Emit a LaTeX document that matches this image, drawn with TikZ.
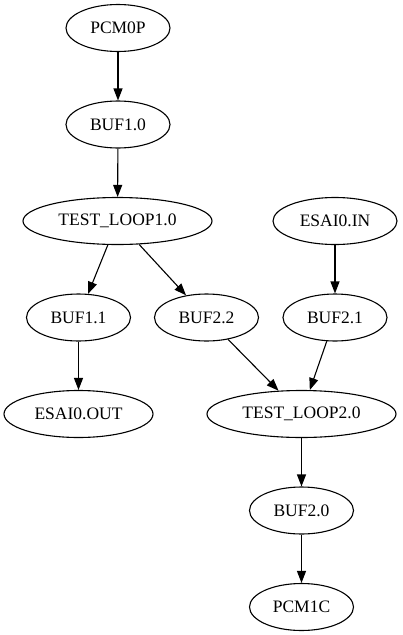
\documentclass[tikz,border=0pt]{standalone}
\usepackage{fontspec}
\setmainfont{Liberation Serif}
\usepackage{tikz}
\usetikzlibrary{arrows.meta}
\usetikzlibrary{shapes.geometric}
\tikzset {
  x={(1pt,0)}, y={(0,-1pt)},
  >={Triangle[length=12pt,width=9pt]},
  % graph vertex style
  main/.style = {draw, ellipse, line width=1.1pt, inner sep=0pt,
    minimum height=47pt, minimum width=104pt,
    font=\fontsize{17.5}{20}\selectfont},
  wide/.style = {minimum width=#1},
  edge/.style = {line width=1.1pt},
}
\begin{document}
\begin{tikzpicture}
        \useasboundingbox (0,0) rectangle (402,635);

        \node[main] (pcm0p) at (118, 28) {PCM0P};
        \node[main] (buf10) at (118, 124.5) {BUF1.0};
        \node[main, wide=189pt] (tl10) at (117.5, 221) {TEST\_LOOP1.0};
        \node[main, wide=124pt] (esaiin) at (335, 221) {ESAI0.IN};

        \node[main] (buf11) at (78.5, 317.5) {BUF1.1};
        \node[main] (buf22) at (206.5, 317.5) {BUF2.2};
        \node[main] (buf21) at (335, 317.5) {BUF2.1};

        \node[main, wide=149pt] (esaiout) at (78.5, 414) {ESAI0.OUT};
        \node[main, wide=189pt] (tl20) at (301.5, 414) {TEST\_LOOP2.0};
        \node[main] (buf20) at (301.5, 510.5) {BUF2.0};
        \node[main] (pcm1c) at (301.5, 607) {PCM1C};

        \draw [edge, ->] (pcm0p) -- (buf10);
        \draw [edge, ->] (buf10) -- (tl10);
        \draw [edge, ->] (tl10) -- (buf11);
        \draw [edge, ->] (tl10) -- (buf22);
        \draw [edge, ->] (esaiin) -- (buf21);

        \draw [edge, ->] (buf11) -- (esaiout);
        \draw [edge, ->] (buf22) -- (tl20);
        \draw [edge, ->] (buf21) -- (tl20);
        \draw [edge, ->] (tl20) -- (buf20);
        \draw [edge, ->] (buf20) -- (pcm1c);

      \end{tikzpicture}
\end{document}
